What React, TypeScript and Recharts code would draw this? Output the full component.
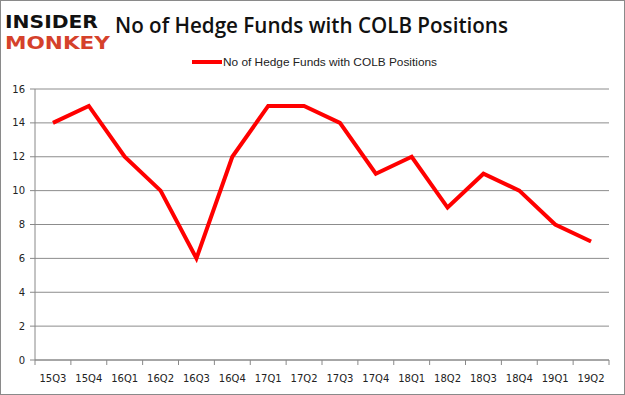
import React from 'react';
import { ComposedChart, Line, XAxis, YAxis, CartesianGrid, Legend } from 'recharts';

const categories = ['15Q3','15Q4','16Q1','16Q2','16Q3','16Q4','17Q1','17Q2','17Q3','17Q4','18Q1','18Q2','18Q3','18Q4','19Q1','19Q2'];
const hedgeFunds = [14,15,12,10,6,12,15,15,14,11,12,9,11,10,8,7];
const yTicks = [0,2,4,6,8,10,12,14,16];
const seriesName = 'No of Hedge Funds with COLB Positions';

const data = categories.map((c, i) => ({ q: c, v: hedgeFunds[i] }));

const W = 625, H = 395;
const LEG_H = 20;
const M = { top: 89 - LEG_H, right: 16, bottom: 5, left: 0 };
const Y_W = 35;
const PLOT_W = W - M.left - M.right - Y_W;
const BW = PLOT_W / categories.length;

const XTick = (props: any) => {
  const { x, y, payload, index } = props;
  const axisY = y - 8;
  const lines = [x - BW / 2];
  if (index === categories.length - 1) lines.push(x + BW / 2);
  return (
    <g>
      {lines.map((lx, k) => (
        <line key={k} x1={lx} x2={lx} y1={axisY} y2={axisY + 5} stroke="#888" strokeWidth={1} />
      ))}
      <text x={x} y={axisY + 22} textAnchor="middle" fontFamily="DejaVu Sans" fontSize={10} fill="#222">{payload.value}</text>
    </g>
  );
};

const LegendContent = () => (
  <svg width={W} height={LEG_H} style={{ overflow: 'visible', display: 'block' }}>
    <line x1={192} x2={222} y1={10} y2={10} stroke="#ff0000" strokeWidth={4} />
    <text x={223} y={14} fontFamily="Liberation Sans, Arial" fontSize={11} fill="#222" textLength={214} lengthAdjust="spacingAndGlyphs">{seriesName}</text>
  </svg>
);

export default function App() {
  return (
    <div style={{ position: 'absolute', left: 0, top: 0, width: W, height: H, background: '#fff' }}>
      <ComposedChart width={W} height={H} data={data} margin={M}>
        <CartesianGrid vertical={false} stroke="#8c8c8c" strokeWidth={1} />
        <XAxis dataKey="q" axisLine={{ stroke: '#888' }} tickLine={false} tick={<XTick />} height={30} interval={0}
          padding={{ left: BW / 2, right: BW / 2 }} />
        <YAxis domain={[0, 16]} ticks={yTicks} width={Y_W} axisLine={{ stroke: '#888' }} tickLine={{ stroke: '#888' }} tickSize={5} tickMargin={5}
          tick={{ fontFamily: 'DejaVu Sans', fontSize: 10, fill: '#222' }} interval={0} />
        <Legend verticalAlign="top" height={LEG_H} content={<LegendContent />} wrapperStyle={{ position: 'absolute', left: 0, top: 52, width: W, height: LEG_H }} />
        <Line type="linear" dataKey="v" name={seriesName} stroke="#ff0000" strokeWidth={4} dot={false} isAnimationActive={false} />
      </ComposedChart>
      <svg width={W} height={H} style={{ position: 'absolute', left: 0, top: 0, pointerEvents: 'none' }}>
        <rect x={0.5} y={0.5} width={W - 1} height={H - 1} fill="none" stroke="#8a8a8a" strokeWidth={1} />
        <text x={5} y={28} fontFamily="DejaVu Sans" fontWeight="bold" fontSize={18} fill="#111" textLength={93} lengthAdjust="spacingAndGlyphs">INSIDER</text>
        <text x={5} y={49} fontFamily="DejaVu Sans" fontWeight="bold" fontSize={18} fill="#d5412b" textLength={105} lengthAdjust="spacingAndGlyphs">MONKEY</text>
        <text x={115} y={33} fontFamily="Open Sans" fontWeight={600} fontSize={22} fill="#111" textLength={393} lengthAdjust="spacingAndGlyphs">{'No of Hedge Funds with COLB Positions'}</text>
      </svg>
    </div>
  );
}
